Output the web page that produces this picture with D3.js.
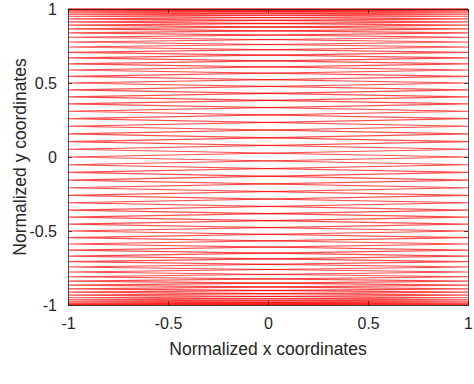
<!DOCTYPE html>
<html>
<head>
<meta charset="utf-8">
<script src="https://cdn.jsdelivr.net/npm/d3@7"></script>
<style>
  body { margin: 0; background: #fff; }
  svg { display: block; }
</style>
</head>
<body>
<svg width="474" height="384"></svg>
<script>
// turning points of the scan (top to bottom)
const turnY = [1.000, 0.9986, 0.9945, 0.9877, 0.9781, 0.9659, 0.9511, 0.9336, 0.9135, 0.8910,
  0.8660, 0.8387, 0.8090, 0.7771, 0.7431, 0.7071, 0.6691, 0.6293, 0.5878, 0.5446,
  0.5000, 0.4540, 0.4067, 0.3584, 0.3090, 0.2588, 0.2079, 0.1564, 0.1045, 0.0523,
  0.000, -0.0523, -0.1045, -0.1564, -0.2079, -0.2588, -0.3090, -0.3584, -0.4067, -0.4540,
  -0.5000, -0.5446, -0.5878, -0.6293, -0.6691, -0.7071, -0.7431, -0.7771, -0.8090, -0.8387,
  -0.8660, -0.8910, -0.9135, -0.9336, -0.9511, -0.9659, -0.9781, -0.9877, -0.9945, -0.9986, -1.000];
// the two passes start on opposite sides, so they cross at x = 0
const passStart = [-1, 1];
const xTicks = [-1, -0.5, 0, 0.5, 1];
const yTicks = [-1, -0.5, 0, 0.5, 1];

const svg = d3.select("svg");
const x = d3.scaleLinear().domain([-1, 1]).range([68, 468]);
const y = d3.scaleLinear().domain([-1, 1]).range([305, 9]);

const line = d3.line().x(d => x(d[0])).y(d => y(d[1]));

passStart.forEach(s => {
    const pts = turnY.map((v, i) => [i % 2 ? -s : s, v]);
    svg.append("path")
        .datum(pts)
        .attr("fill", "none")
        .attr("stroke", "#ff0000")
        .attr("stroke-opacity", 0.7)
        .attr("stroke-width", 1.2)
        .attr("d", line);
});

// axes (matlab style, ticks inside, box on)
const axCol = "#262626";
const fmt = d => d3.format("")(d).replace("\u2212", "-");

svg.append("g")
    .attr("transform", `translate(0,${y(-1)})`)
    .call(d3.axisBottom(x).tickValues(xTicks).tickSize(-4).tickPadding(13).tickFormat(fmt));
svg.append("g")
    .attr("transform", `translate(${x(-1)},0)`)
    .call(d3.axisLeft(y).tickValues(yTicks).tickSize(-4).tickPadding(11).tickFormat(fmt));
svg.append("g")
    .attr("transform", `translate(0,${y(1)})`)
    .call(d3.axisTop(x).tickValues(xTicks).tickSize(-4).tickFormat(""));
svg.append("g")
    .attr("transform", `translate(${x(1)},0)`)
    .call(d3.axisRight(y).tickValues(yTicks).tickSize(-4).tickFormat(""));

svg.selectAll(".domain, .tick line").attr("stroke", axCol).attr("stroke-width", 0.8);
svg.selectAll(".tick text")
    .attr("fill", axCol)
    .style("font-family", "'Liberation Sans', Arial, sans-serif")
    .style("font-size", "16px");

svg.append("text")
    .attr("x", x(0))
    .attr("y", 355)
    .attr("text-anchor", "middle")
    .attr("fill", axCol)
    .style("font-family", "'Liberation Sans', Arial, sans-serif")
    .style("font-size", "17.5px")
    .text("Normalized x coordinates");

svg.append("text")
    .attr("transform", `translate(26,${y(0)}) rotate(-90)`)
    .attr("text-anchor", "middle")
    .attr("fill", axCol)
    .style("font-family", "'Liberation Sans', Arial, sans-serif")
    .style("font-size", "17.5px")
    .text("Normalized y coordinates");
</script>
</body>
</html>
